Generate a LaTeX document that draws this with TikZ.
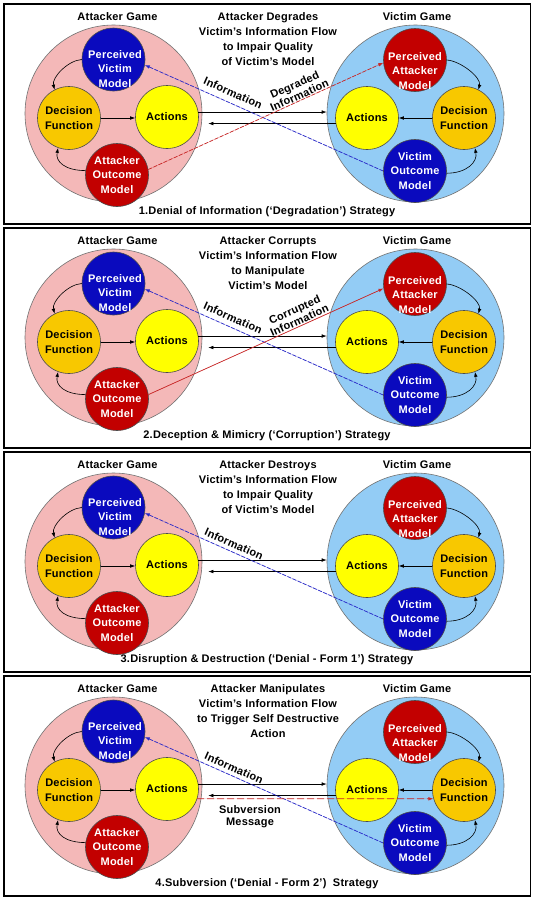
\documentclass[tikz,border=0pt]{standalone}
\usepackage{fontspec}
\setmainfont{Liberation Sans}[LetterSpace=2]
\usetikzlibrary{arrows.meta,calc}
\definecolor{apink}{HTML}{F4B8B8}
\definecolor{vblue}{HTML}{93CCF5}
\definecolor{dblue}{HTML}{0A0ABE}
\definecolor{dred}{HTML}{C20000}
\definecolor{gold}{HTML}{F8C800}
\definecolor{yel}{HTML}{FFFF00}
\definecolor{lblue}{HTML}{2828C8}
\definecolor{lred}{HTML}{C82828}
\tikzset{
 frame/.style={draw=black,line width=1.2pt},
 big/.style={circle,draw=black!55,line width=0.6pt,minimum size=177pt,inner sep=0pt},
 small/.style={circle,draw=black!70,line width=0.6pt,minimum size=63pt,inner sep=0pt,font=\bfseries\fontsize{11}{14.5}\selectfont,align=center},
 wtxt/.style={text=white,font=\bfseries\fontsize{11}{14.5}\selectfont,align=center,inner sep=0pt},
 lbl/.style={font=\bfseries\fontsize{11}{15}\selectfont,align=center,inner sep=0pt},
 lbltight/.style={font=\bfseries\fontsize{11}{11.5}\selectfont,align=center,inner sep=0pt},
 arr/.style={-{Latex[length=5pt,width=3.6pt]},line width=0.6pt},
 bdash/.style={arr,draw=lblue,fill=lblue,dash pattern=on 4pt off 1.6pt,line width=0.7pt},
 rdash/.style={arr,draw=lred,fill=lred,dash pattern=on 4pt off 1.6pt,line width=0.7pt},
 rsolid/.style={arr,draw=lred,fill=lred,line width=0.7pt},
 rlong/.style={arr,draw=lred,fill=lred,dash pattern=on 7pt off 3pt,line width=0.8pt},
}
\newcommand\gamepanel[4]{%
 \begin{scope}[shift={(0,#2)}]
 \draw[frame] (4,4) rectangle (530.5,224);
 \node[big,fill=apink] (#1ag) at (113.5,113.5) {};
 \node[big,fill=vblue] (#1vg) at (415.5,113.5) {};
 \node[small,fill=dblue] (#1apv) at (113.5,59.5) {};
 \node[wtxt] (#1apvt) at (115,69) {Perceived\\Victim\\Model};
 \node[small,fill=gold] (#1adf) at (69,118) {Decision\\Function};
 \node[small,fill=yel] (#1aac) at (167,117) {Actions};
 \node[small,fill=dred,text=white] (#1aom) at (117,175) {Attacker\\Outcome\\Model};
 \node[small,fill=dred] (#1vpa) at (415,60) {};
 \node[wtxt] (#1vpat) at (415,71) {Perceived\\Attacker\\Model};
 \node[small,fill=gold] (#1vdf) at (464,118) {Decision\\Function};
 \node[small,fill=yel] (#1vac) at (367,118) {Actions};
 \node[small,fill=dblue,text=white] (#1vom) at (415,171) {Victim\\Outcome\\Model};
 \node[lbl] (#1at) at (117.5,17) {Attacker Game};
 \node[lbl] (#1vt) at (417,17) {Victim Game};
 \node[lbl] (#1ct) at (268,39.5) {#3};
 \node[lbl] (#1cap) at (267,211.5) {#4};
 \draw[arr] (#1apv.180) .. controls +(-14,1) and +(-3,-12) .. (#1adf.117);
 \draw[arr] (#1aom.172) .. controls +(-20,0) and +(-3,14) .. (#1adf.250);
 \draw[arr] (#1adf.east) -- (#1adf.east -| #1aac.west);
 \draw[arr] (#1vpa.0) .. controls +(14,1) and +(3,-12) .. (#1vdf.63);
 \draw[arr] (#1vom.356) .. controls +(20,0) and +(3,14) .. (#1vdf.290);
 \draw[arr] (#1vdf.west) -- (#1vdf.west -| #1vac.east);
 \draw[arr] (#1aac.9) -- (#1aac.9 -| #1vg.west);
 \draw[arr] (#1vac.190) -- ($(#1vac.190 -| #1ag.east)+(6,0)$);
 \draw[bdash] (#1vom.west) -- (#1apv.350);
 \end{scope}}
\begin{document}
\begin{tikzpicture}[x=1pt,y=-1pt]
\useasboundingbox (0,0) rectangle (537,905);
\fill[white] (0,0) rectangle (537,905);
\gamepanel{A}{0}{Attacker Degrades\\Victim's Information Flow\\to Impair Quality\\of Victim's Model}{1.Denial of Information (`Degradation') Strategy}
\gamepanel{B}{224}{Attacker Corrupts\\Victim's Information Flow\\to Manipulate\\Victim's Model}{2.Deception \& Mimicry (`Corruption') Strategy}
\gamepanel{C}{448}{Attacker Destroys\\Victim's Information Flow\\to Impair Quality\\of Victim's Model}{3.Disruption \& Destruction (`Denial - Form 1') Strategy}
\gamepanel{D}{672}{Attacker Manipulates\\Victim's Information Flow\\to Trigger Self Destructive\\Action}{4.Subversion (`Denial - Form 2')\ \ Strategy}
% panel 1 extras
\draw[rdash] (Aaom.10) -- (Avpa.185);
\node[lbl,rotate=-24] (Ainf) at (233,93) {Information};
\node[lbltight,rotate=24] (Adeg) at (297,90) {Degraded\\Information};
% panel 2 extras
\draw[rsolid] (Baom.8) -- (Bvpa.188);
\begin{scope}[shift={(0,224)}]
\node[lbl,rotate=-24] (Binf) at (233,94) {Information};
\node[lbltight,rotate=24] (Bcor) at (297,91) {Corrupted\\Information};
\end{scope}
% panel 3 extras
\begin{scope}[shift={(0,448)}]
\node[lbl,rotate=-24] (Cinf) at (234,96) {Information};
\end{scope}
% panel 4 extras
\draw[rlong] (Daac.342) -- (Dvdf.196);
\begin{scope}[shift={(0,672)}]
\node[lbl,rotate=-24] (Dinf) at (234,96) {Information};
\node[lbltight] (Dsub) at (250,144.5) {Subversion\\Message};
\end{scope}
\end{tikzpicture}
\end{document}
